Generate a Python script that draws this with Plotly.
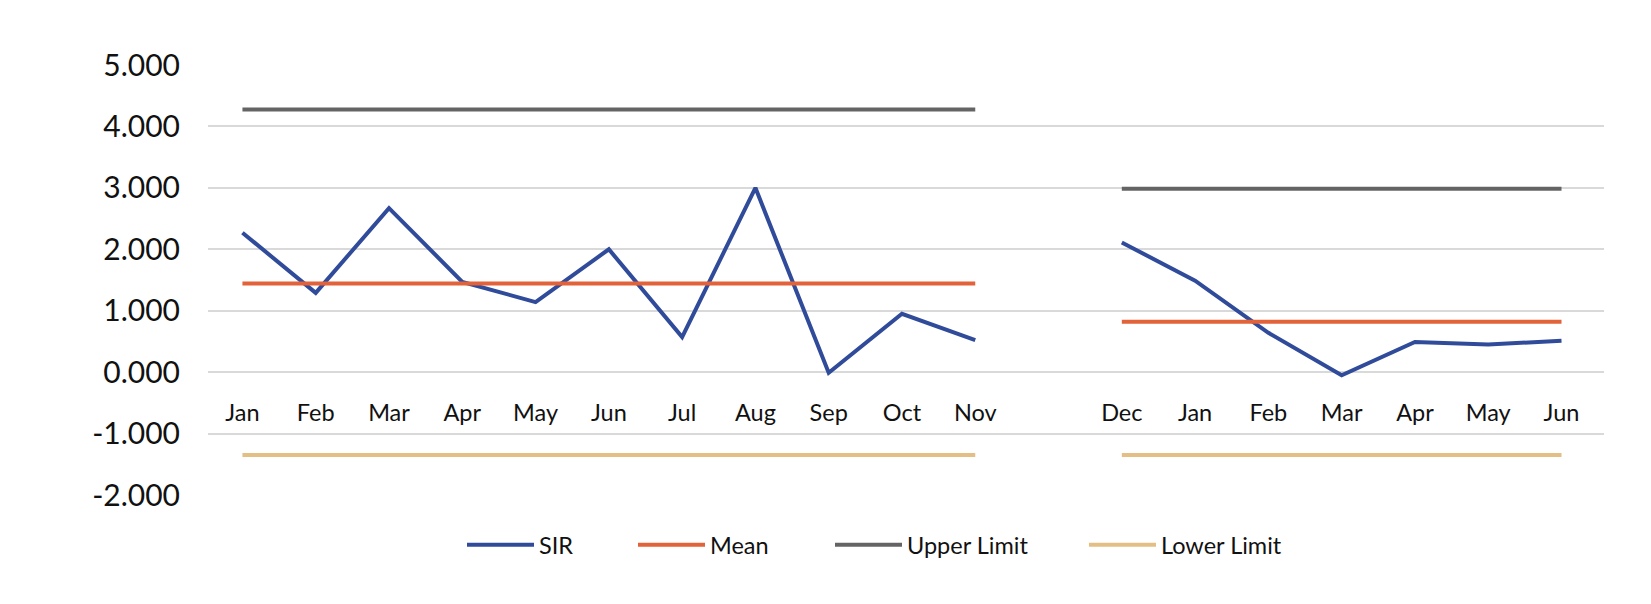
import plotly.graph_objects as go

# ---- data ----
months_period1 = ["Jan", "Feb", "Mar", "Apr", "May", "Jun", "Jul", "Aug", "Sep", "Oct", "Nov"]
months_period2 = ["Dec", "Jan", "Feb", "Mar", "Apr", "May", "Jun"]

sir_period1 = [2.27, 1.29, 2.67, 1.47, 1.14, 2.00, 0.57, 3.00, -0.01, 0.95, 0.52]
sir_period2 = [2.11, 1.49, 0.64, -0.05, 0.49, 0.45, 0.51]

mean_period1 = 1.444
mean_period2 = 0.82
upper_period1 = 4.276
upper_period2 = 2.985
lower_period1 = -1.35
lower_period2 = -1.35

y_ticks = [-2, -1, 0, 1, 2, 3, 4, 5]
y_tick_labels = [f"{v:.3f}" for v in y_ticks]
series_names = ["SIR", "Mean", "Upper Limit", "Lower Limit"]

# ---- build x positions (one blank category between the two periods) ----
n1, n2 = len(months_period1), len(months_period2)
x1 = list(range(n1))
gap = n1
x2 = [n1 + 1 + i for i in range(n2)]
x_all = x1 + [gap] + x2
tick_text = months_period1 + months_period2
tick_vals = x1 + x2


def split_series(v1, v2):
    return list(v1) + [None] + list(v2)


colors = ["#2F4B9A", "#E2623A", "#646464", "#E3BF86"]
ys = [
    split_series(sir_period1, sir_period2),
    split_series([mean_period1] * n1, [mean_period2] * n2),
    split_series([upper_period1] * n1, [upper_period2] * n2),
    split_series([lower_period1] * n1, [lower_period2] * n2),
]

FONT = "Lato"
TXT = "#111111"
fig = go.Figure()
legend_ids = ["legend", "legend2", "legend3", "legend4"]
for name, y, c, lg in zip(series_names, ys, colors, legend_ids):
    fig.add_trace(go.Scatter(
        x=x_all, y=y, mode="lines", name=name,
        line=dict(color=c, width=4), connectgaps=False,
        legend=lg, hoverinfo="skip",
    ))

W, H = 1651, 604
ml, mr, mt, mb = 200, 55, 57, 117
pw = W - ml - mr
ph = H - mt - mb

legend_left_px = [454, 625, 822, 1076]
legend_center_y_px = 537
legend_y = (mt + ph - legend_center_y_px) / ph


def legend_cfg(px):
    return dict(
        x=(px - ml) / pw, y=legend_y, xanchor="left", yanchor="middle",
        orientation="h", font=dict(family=FONT, size=23.5, color=TXT),
        bgcolor="rgba(0,0,0,0)", itemwidth=67,
    )


fig.update_layout(
    width=W, height=H,
    margin=dict(l=ml, r=mr, t=mt, b=mb),
    paper_bgcolor="white", plot_bgcolor="white",
    font=dict(family=FONT, color=TXT),
    showlegend=True,
    legend=legend_cfg(legend_left_px[0]),
    legend2=legend_cfg(legend_left_px[1]),
    legend3=legend_cfg(legend_left_px[2]),
    legend4=legend_cfg(legend_left_px[3]),
    xaxis=dict(
        range=[-0.47, len(x_all) - 0.42],
        tickmode="array", tickvals=tick_vals, ticktext=tick_text,
        showgrid=False, zeroline=False, showline=False,
        anchor="free", position=2 / 7,
        ticks="", ticklabelstandoff=24,
        tickfont=dict(family=FONT, size=23.5, color=TXT),
    ),
    yaxis=dict(
        range=[-2, 5], tickmode="array", tickvals=y_ticks, ticktext=y_tick_labels,
        showgrid=True, gridcolor="#D9D9D9", gridwidth=1.5,
        zeroline=False, showline=False, ticks="",
        ticklabelstandoff=27,
        tickfont=dict(family=FONT, size=30, color=TXT),
        domain=[0, 1],
    ),
)

fig.write_html("out.html")
